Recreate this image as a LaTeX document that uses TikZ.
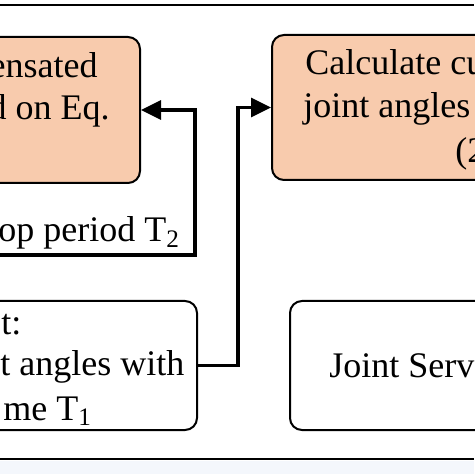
\documentclass[tikz,border=0pt]{standalone}
\usepackage{fontspec}
\setmainfont{Liberation Serif}
\usetikzlibrary{arrows.meta}
\definecolor{boxorange}{RGB}{248,203,173}
\definecolor{pageblue}{RGB}{244,247,252}
\begin{document}
\begin{tikzpicture}[x=0.5pt,y=-0.5pt,
    blk/.style={draw,line width=1pt,rounded corners=6pt,inner sep=0pt},
    calc/.style={blk,fill=boxorange},
    txt/.style={font=\fontsize{18}{21}\selectfont,inner sep=0pt,anchor=base west},
    flow/.style={line width=1.7pt,-{Triangle[length=10pt,width=9.5pt]}}]
  \useasboundingbox (0,0) rectangle (474,474);
  \fill[white] (0,0) rectangle (474,474);
  \fill[pageblue] (0,461) rectangle (474,474);
  \draw[line width=1.2pt] (0,5) -- (474,5) (0,459) -- (474,459);
  % boxes
  \node[calc,minimum width=85pt,minimum height=73pt] (compBox) at (55,110) {};
  \node[calc,minimum width=124pt,minimum height=72.5pt] (calcBox) at (396,107.5) {};
  \node[blk,minimum width=113.5pt,minimum height=64.5pt] (inputBox) at (83.5,365.5) {};
  \node[blk,minimum width=115pt,minimum height=64.5pt] (servoBox) at (405,365.5) {};
  % texts
  \node[txt,anchor=base east] (compA) at (98,78) {ensated};
  \node[txt,anchor=base east] (compB) at (110,120) {d on Eq.};
  \node[txt] (calcA) at (305,75) {Calculate cu};
  \node[txt] (calcB) at (303,118) {joint angles};
  \node[txt] (calcC) at (455,163) {(2};
  \node[txt] (inputA) at (1,334) {t:};
  \node[txt] (inputB) at (0,375) {t angles with};
  \node[txt] (inputC) at (3,420) {me T\textsubscript{1}};
  \node[txt] (servoA) at (329,377) {Joint Serv};
  \node[txt] (loopLabel) at (-2,242) {op period T\textsubscript{2}};
  % connectors
  \coordinate (loopTail) at (-10,255);
  \coordinate (loopTurn) at (195,110);
  \draw[flow] (loopTail) -| (loopTurn) -- (compBox.east);
  \draw[flow] (inputBox.east) -- ++(40,0) |- (calcBox.west);
\end{tikzpicture}
\end{document}
